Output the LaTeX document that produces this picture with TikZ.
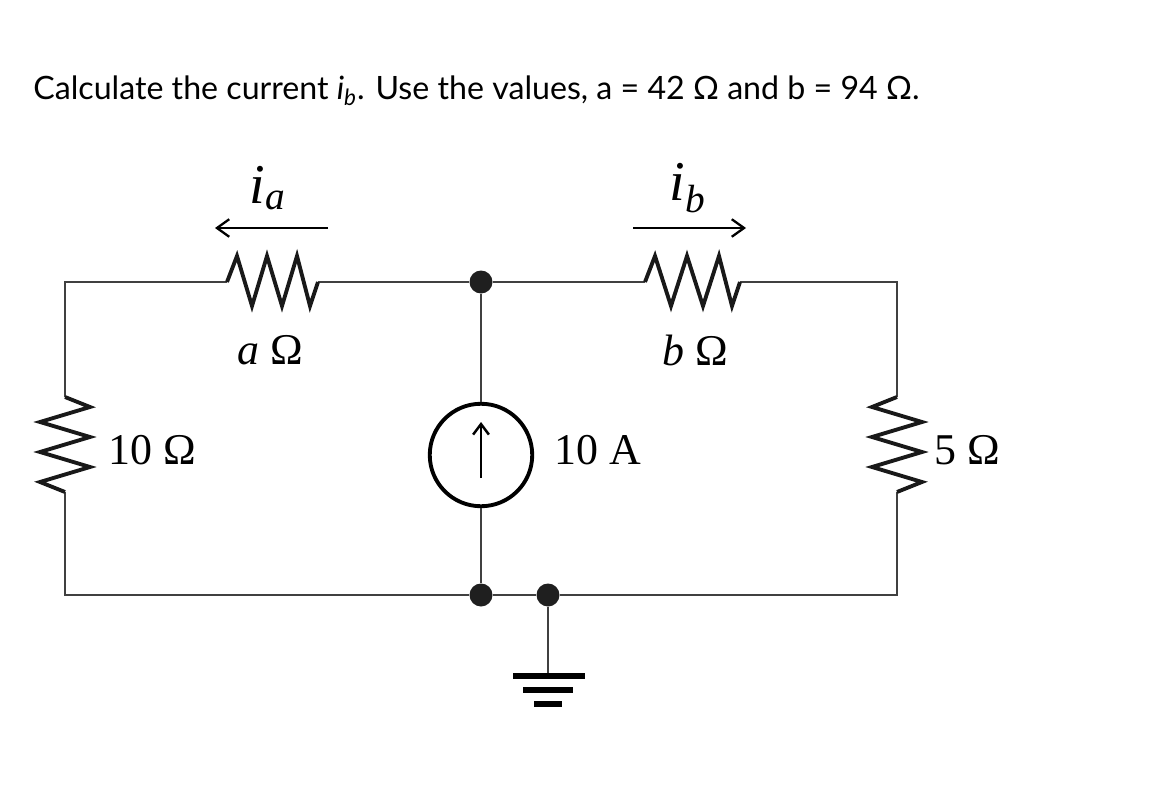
\documentclass[tikz,border=0pt]{standalone}
\usepackage{fontspec}
\setmainfont{Lato}
\newfontfamily\ckt{Liberation Serif}
\usetikzlibrary{arrows.meta}
\begin{document}
\begin{tikzpicture}[x=0.02cm,y=-0.02cm,
  wire/.style={line width=1.6pt,draw=black!75},
  res/.style={line width=2.2pt,draw=black!90,line join=miter},
  lbl/.style={font=\ckt\fontsize{25}{25}\selectfont,inner sep=0pt},
  dot/.style={circle,fill=black!88,minimum size=0.46cm,inner sep=0pt},
  cur/.style={line width=1.3pt,-{Straight Barb[length=7pt,width=10pt]}}]
\useasboundingbox (0,0) rectangle (1174,788);
\node[anchor=west,inner sep=0pt,font=\fontsize{18.3}{20}\selectfont] (title) at (33,91) {Calculate the current \textit{i}\textsubscript{\textit{b}}. Use the values, a = 42 Ω and b = 94 Ω.};
% nodes
\coordinate (tl) at (65,282); \coordinate (tr) at (897,282);
\coordinate (bl) at (65,595); \coordinate (br) at (897,595);
\node[dot] (nt) at (481,282) {};
\node[dot] (nb) at (481,595) {};
\node[dot] (ng) at (548,595) {};
\node[circle,draw,line width=2.2pt,minimum size=2.05cm,inner sep=0pt] (src) at (481,455) {};
\coordinate (ra1) at (227,282); \coordinate (ra2) at (318,282);
\coordinate (rb1) at (645,282); \coordinate (rb2) at (740,282);
\coordinate (rl1) at (65,397); \coordinate (rl2) at (65,492);
\coordinate (rr1) at (897,397); \coordinate (rr2) at (897,492);
\coordinate (g) at (548,676);
% wires
\draw[wire] (77,282) -- (tl) -- (rl1);
\draw[wire] (rl2) -- (bl) -- (nb) -- (ng) -- (br) -- (rr2);
\draw[wire] (rr1) -- (tr) -- (885,282);
\draw[wire] (tl) -- (ra1); \draw[wire] (ra2) -- (nt) -- (rb1); \draw[wire] (rb2) -- (tr);
\draw[wire] (nt) -- (src); \draw[wire] (src) -- (nb);
\draw[wire] (ng) -- (g);
% resistors
\draw[res] (ra1) -- ++(10,-26) -- ++(15,50) -- ++(15,-50) -- ++(15,50) -- ++(15,-50) -- ++(13,50) -- (ra2);
\draw[res] (rb1) -- ++(10,-26) -- ++(16,50) -- ++(16,-50) -- ++(16,50) -- ++(16,-50) -- ++(13,50) -- (rb2);
\draw[res] (rl1) -- ++(25,10) -- ++(-50,15) -- ++(50,15) -- ++(-50,15) -- ++(50,15) -- ++(-50,15) -- (rl2);
\draw[res] (rr1) -- ++(-25,10) -- ++(50,15) -- ++(-50,15) -- ++(50,15) -- ++(-50,15) -- ++(50,15) -- (rr2);
% ground
\draw[line width=3pt] (513,676) -- (585,676) (523,690) -- (573,690) (534,704) -- (562,704);
% source arrow
\draw[line width=1.4pt,-{Straight Barb[length=6pt,width=9pt]}] (481,478) -- (481,422);
% current arrows
\draw[cur] (328,228) -- (215,228);
\draw[cur] (633,228) -- (746,228);
% labels
\node[lbl] (la) at (270,350) {\textit{a} Ω};
\node[lbl] (lb) at (695,350) {\textit{b} Ω};
\node[lbl] (l10) at (152,450) {10 Ω};
\node[lbl] (l5) at (967,450) {5 Ω};
\node[lbl] (lA) at (598,450) {10 A};
\node[font=\ckt\fontsize{32}{32}\selectfont,inner sep=0pt] (ia) at (268,188) {\textit{i}\textsubscript{\textit{a}}};
\node[font=\ckt\fontsize{32}{32}\selectfont,inner sep=0pt] (ib) at (688,188) {\textit{i}\textsubscript{\textit{b}}};
\end{tikzpicture}
\end{document}
